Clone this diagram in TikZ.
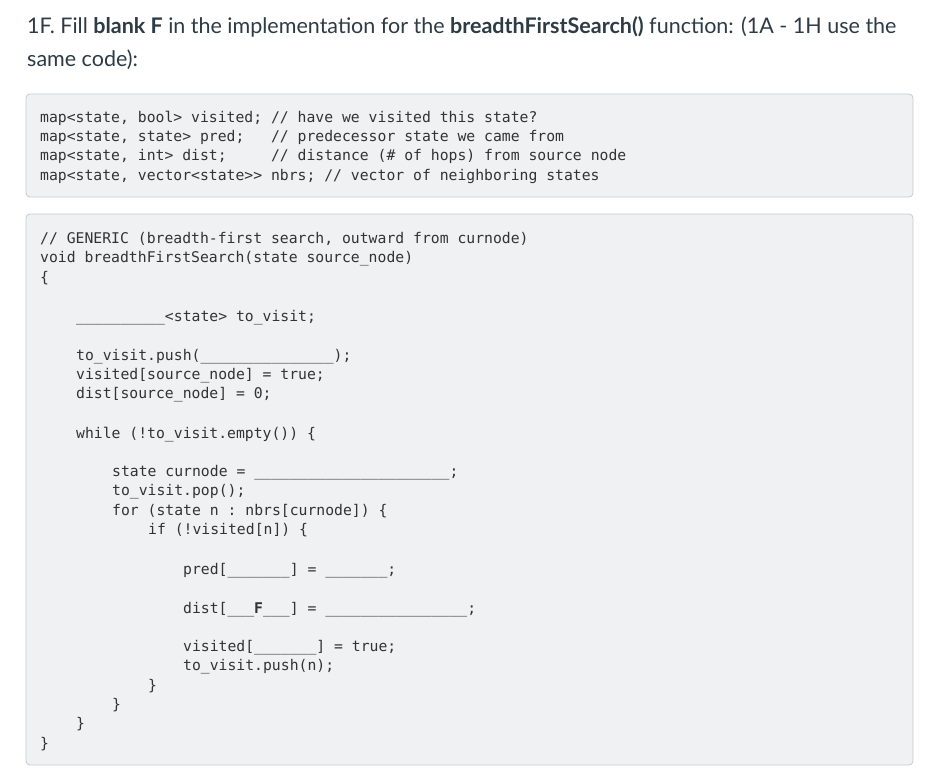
\documentclass[tikz,border=0pt]{standalone}
\usepackage{fontspec}
\setmainfont{Lato}
\setmonofont{DejaVu Sans Mono}
\definecolor{txt}{HTML}{2D3B45}
\definecolor{code}{HTML}{333333}
\definecolor{boxf}{HTML}{F0F1F2}
\definecolor{boxd}{HTML}{C8CBCE}
\begin{document}
\begin{tikzpicture}[x=1pt,y=-1pt,
  cbox/.style={draw=boxd,fill=boxf,rounded corners=4pt,line width=0.8pt},
  cl/.style={anchor=base west,inner sep=0pt,font=\ttfamily\fontsize{14.75}{16}\selectfont,text=code},
  hd/.style={anchor=base west,inner sep=0pt,font=\fontsize{21.5}{24}\selectfont,text=txt}]
\useasboundingbox[fill=white] (0,0) rectangle (939,781);
\node[hd] (h1) at (27,34) {1F. Fill \textbf{blank F} in the implementation for the \textbf{breadthFirstSearch()} function: (1A - 1H use the};
\node[hd] (h2) at (27,67) {same code):};
\draw[cbox] (26,94) rectangle (913,197);
\node[cl] (a1) at (40,122) {map<state, bool> visited; // have we visited this state?};
\node[cl] (a2) at (40,141) {map<state, state> pred;~~~// predecessor state we came from};
\node[cl] (a3) at (40,160) {map<state, int> dist;~~~~~// distance (\# of hops) from source node};
\node[cl] (a4) at (40,180) {map<state, vector<state>{}> nbrs; // vector of neighboring states};
\draw[cbox] (26,214) rectangle (913,765);
\node[cl] (b1) at (40,243) {// GENERIC (breadth-first search, outward from curnode)};
\node[cl] (b2) at (40,262) {void breadthFirstSearch(state source\_node)};
\node[cl] (b3) at (40,282) {\{};
\node[cl] (b4) at (76,321) {\_\_\_\_\_\_\_\_\_\_<state> to\_visit;};
\node[cl] (b5) at (76,360) {to\_visit.push(\_\_\_\_\_\_\_\_\_\_\_\_\_\_\_);};
\node[cl] (b6) at (76,379) {visited[source\_node] = true;};
\node[cl] (b7) at (76,398) {dist[source\_node] = 0;};
\node[cl] (b8) at (76,438) {while (!to\_visit.empty()) \{};
\node[cl] (b9) at (112,476) {state curnode = \_\_\_\_\_\_\_\_\_\_\_\_\_\_\_\_\_\_\_\_\_\_;};
\node[cl] (b10) at (112,495) {to\_visit.pop();};
\node[cl] (b11) at (112,515) {for (state n : nbrs[curnode]) \{};
\node[cl] (b12) at (148,534) {if (!visited[n]) \{};
\node[cl] (b13) at (183,574) {pred[\_\_\_\_\_\_\_] = \_\_\_\_\_\_\_;};
\node[cl] (b14) at (183,613) {dist[\_\_\_\textbf{F}\_\_\_] = \_\_\_\_\_\_\_\_\_\_\_\_\_\_\_\_;};
\node[cl] (b15) at (183,651) {visited[\_\_\_\_\_\_\_] = true;};
\node[cl] (b16) at (183,670) {to\_visit.push(n);};
\node[cl] (b17) at (148,690) {\}};
\node[cl] (b18) at (112,709) {\}};
\node[cl] (b19) at (76,728) {\}};
\node[cl] (b20) at (40,748) {\}};
\end{tikzpicture}
\end{document}
